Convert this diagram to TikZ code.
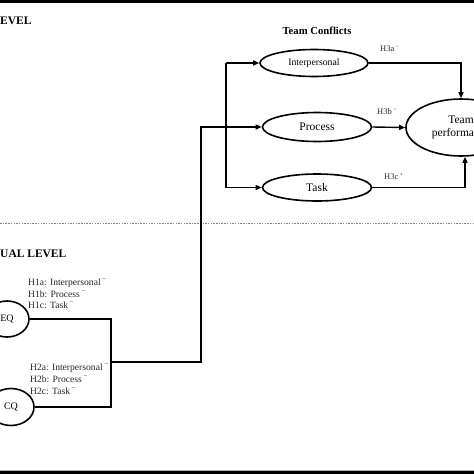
\documentclass[tikz,border=0pt]{standalone}
\usepackage{fontspec}
\setmainfont{Liberation Serif}
\usetikzlibrary{shapes.geometric,arrows.meta}
\begin{document}
\begin{tikzpicture}[x=1pt,y=-1pt,
  oval/.style={draw, ellipse, line width=1.6pt, inner sep=0pt},
  conn/.style={line width=1.4pt},
  arr/.style={conn, -{Triangle[length=6pt,width=5pt]}},
  hlbl/.style={font=\fontsize{8.5}{10}\selectfont, text=black!85, inner sep=0pt, anchor=base west},
  hyp/.style={font=\fontsize{9.6}{11.6}\selectfont, text=black!85, inner sep=0pt, anchor=base west},
  level/.style={font=\fontsize{11.5}{13}\selectfont\bfseries, inner sep=0pt, anchor=base west}]
\useasboundingbox (0,0) rectangle (474,474);
\clip (0,0) rectangle (474,474);
% frame bars and level divider
\fill[black] (0,0) rectangle (474,3);
\fill[black] (0,471) rectangle (474,474);
\draw[gray!60, line width=0.6pt] (0,470) -- (474,470);
\draw[gray, line width=0.5pt, dash pattern=on 1.5pt off 1.2pt] (0,223) -- (474,223);
% level titles
\node[level] (teamlevel) at (0,24.5) {EVEL};
\node[level] (indlevel) at (0,257) {UAL LEVEL};
\node[font=\fontsize{10.7}{12}\selectfont\bfseries, inner sep=0pt] (tc) at (317,31) {Team Conflicts};
% ellipses
\node[oval, minimum width=108pt, minimum height=27pt, font=\fontsize{9.7}{11}\selectfont] (inter) at (314,63) {Interpersonal};
\node[oval, minimum width=109pt, minimum height=29pt, font=\fontsize{11.5}{13}\selectfont] (proc) at (317,127) {Process};
\node[oval, minimum width=109pt, minimum height=27pt, font=\fontsize{11.5}{13}\selectfont] (task) at (317,187.5) {Task};
\node[oval, minimum width=110pt, minimum height=57pt, font=\fontsize{11.5}{13.5}\selectfont, align=center] (team) at (461,127.5) {Team\\performance};
\node[oval, minimum width=44pt, minimum height=36pt, font=\fontsize{10}{12}\selectfont] (eq) at (7,319) {EQ};
\node[oval, minimum width=46pt, minimum height=37pt, font=\fontsize{10}{12}\selectfont] (cq) at (11,407) {CQ};
% hypothesis labels
\node[hlbl] (h3a) at (380,51) {H3a\,\textsuperscript{−}};
\node[hlbl] (h3b) at (377,114.5) {H3b\,\textsuperscript{−}};
\node[hlbl] (h3c) at (384,179.5) {H3c\,\textsuperscript{+}};
\node[hyp] (h1a) at (28,285.5) {H1a: Interpersonal\,\textsuperscript{−}};
\node[hyp] (h1b) at (28,297) {H1b: Process\,\textsuperscript{−}};
\node[hyp] (h1c) at (28,308.5) {H1c: Task\,\textsuperscript{−}};
\node[hyp] (h2a) at (30,370.5) {H2a: Interpersonal\,\textsuperscript{−}};
\node[hyp] (h2b) at (30,382.5) {H2b: Process\,\textsuperscript{−}};
\node[hyp] (h2c) at (30,394.5) {H2c: Task\,\textsuperscript{−}};
% junction coordinates
\coordinate (eqj) at (111,319);
\coordinate (cqj) at (111,407);
\coordinate (mj) at (111,362);
\coordinate (rj) at (201,362);
\coordinate (pj) at (201,127);
\coordinate (bt) at (226,63);
\coordinate (bb) at (226,187.5);
% connectors
\draw[conn] (eq.east) -- (eqj) -- (cqj) -- (cq.east);
\draw[arr] (mj) -- (rj) -- (pj) -- (proc.west);
\draw[conn] (bt) -- (bb);
\draw[arr] (bt) -- (inter.west);
\draw[arr] (bb) -- (task.west);
\draw[arr] (inter.east) -| (team.north);
\draw[arr] (proc.east) -- (team.west);
\draw[arr] (task.east) -| ([xshift=4pt]team.south);
\end{tikzpicture}
\end{document}
